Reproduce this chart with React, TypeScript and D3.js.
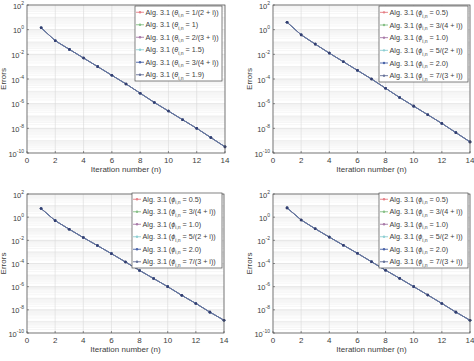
import React from "react";
import * as d3 from "d3";

// iteration numbers
const iters = [1, 2, 3, 4, 5, 6, 7, 8, 9, 10, 11, 12, 13, 14];

// log10 of the errors (all series coincide)
const errTL = [0.15, -0.9, -1.6, -2.3, -3.0, -3.7, -4.4, -5.15, -5.9, -6.6, -7.3, -8.0, -8.75, -9.5];
const errTR = [0.6, -0.42, -1.17, -1.9, -2.6, -3.3, -4.0, -4.75, -5.5, -6.2, -6.9, -7.6, -8.35, -9.1];
const errBL = [0.75, -0.3, -1.04, -1.76, -2.45, -3.15, -3.87, -4.6, -5.3, -6.0, -6.75, -7.45, -8.2, -8.9];
const errBR = [0.8, -0.24, -1.0, -1.72, -2.42, -3.12, -3.85, -4.58, -5.28, -6.0, -6.72, -7.45, -8.2, -8.9];

const labelsTheta = ["1/(2 + i)", "1", "2/(3 + i)", "1.5", "3/(4 + i)", "1.9"];
const labelsPhi = ["0.5", "3/(4 + i)", "1.0", "5/(2 + i)", "2.0", "7/(3 + i)"];

const colors = ["#e57f86", "#86bf86", "#a87aa8", "#8fcfd3", "#4a63a8", "#66729a"];

const xTicks = [0, 2, 4, 6, 8, 10, 12, 14];
const yExps = [2, 0, -2, -4, -6, -8, -10];

const FONT = "'Liberation Sans', Arial, sans-serif";
const TXT = "#404040";

type Box = { l: number; r: number; t: number; b: number };

function Panel({ box, errs, sym, labels, leg }: { box: Box; errs: number[]; sym: string; labels: string[]; leg: Box }) {
  const x = d3.scaleLinear().domain([0, 14]).range([box.l, box.r]);
  const y = d3.scaleLog().domain([1e-10, 1e2]).range([box.b, box.t]);
  const pts = iters.map((n, i) => ({ n, v: Math.pow(10, errs[i]) }));
  const line = d3.line<{ n: number; v: number }>().x((d) => x(d.n)).y((d) => y(d.v));
  const minor: number[] = [];
  for (let e = -10; e < 2; e++) for (let k = 2; k <= 9; k++) minor.push(k * Math.pow(10, e));
  const decades = d3.range(-9, 2, 2).map((e) => Math.pow(10, e));
  const rowH = (leg.b - leg.t) / labels.length;
  return (
    <g fontFamily={FONT}>
      <rect x={box.l} y={box.t} width={box.r - box.l} height={box.b - box.t} fill="#fff" />
      {minor.map((v, i) => (
        <line key={"m" + i} x1={box.l} x2={box.r} y1={y(v)} y2={y(v)} stroke="#f0f0f0" strokeWidth={0.6} />
      ))}
      {decades.map((v, i) => (
        <line key={"d" + i} x1={box.l} x2={box.r} y1={y(v)} y2={y(v)} stroke="#e4e4e4" strokeWidth={0.6} />
      ))}
      {yExps.map((e) => (
        <line key={"y" + e} x1={box.l} x2={box.r} y1={y(Math.pow(10, e))} y2={y(Math.pow(10, e))} stroke="#d8d8d8" strokeWidth={0.6} />
      ))}
      {xTicks.map((t) => (
        <line key={"x" + t} x1={x(t)} x2={x(t)} y1={box.t} y2={box.b} stroke="#d8d8d8" strokeWidth={0.6} />
      ))}
      {colors.map((c, s) => (
        <g key={"s" + s}>
          <path d={line(pts) || ""} fill="none" stroke={c} strokeWidth={0.9} />
          {pts.map((p) => (
            <circle key={p.n} cx={x(p.n)} cy={y(p.v)} r={1.3} fill={s === colors.length - 1 ? "#333d6e" : c} />
          ))}
        </g>
      ))}
      <rect x={box.l} y={box.t} width={box.r - box.l} height={box.b - box.t} fill="none" stroke="#4d4d4d" strokeWidth={0.7} />
      {xTicks.map((t) => (
        <g key={"xt" + t}>
          <line x1={x(t)} x2={x(t)} y1={box.b} y2={box.b - 2} stroke="#4d4d4d" strokeWidth={0.6} />
          <text x={x(t)} y={box.b + 9.5} fontSize={8} fill={TXT} textAnchor="middle">{t}</text>
        </g>
      ))}
      {yExps.map((e) => (
        <g key={"yt" + e}>
          <line x1={box.l} x2={box.l + 2} y1={y(Math.pow(10, e))} y2={y(Math.pow(10, e))} stroke="#4d4d4d" strokeWidth={0.6} />
          <text x={box.l - 3} y={y(Math.pow(10, e)) + 3.5} fontSize={7.5} fill={TXT} textAnchor="end">
            10<tspan fontSize={5} dy={-4}>{e}</tspan>
          </text>
        </g>
      ))}
      <text x={(box.l + box.r) / 2} y={box.b + 19} fontSize={8} fill={TXT} textAnchor="middle">Iteration number (n)</text>
      <text transform={`translate(${box.l - 21},${(box.t + box.b) / 2}) rotate(-90)`} fontSize={8} fill={TXT} textAnchor="middle">Errors</text>
      <rect x={leg.l} y={leg.t} width={leg.r - leg.l} height={leg.b - leg.t} fill="#fff" stroke="#4d4d4d" strokeWidth={0.7} />
      {labels.map((lab, i) => {
        const cy = leg.t + rowH * (i + 0.5);
        return (
          <g key={"l" + i}>
            <line x1={leg.l + 1} x2={leg.l + 9} y1={cy} y2={cy} stroke={colors[i]} strokeWidth={0.9} />
            <circle cx={leg.l + 5} cy={cy} r={1.2} fill={colors[i]} />
            <text x={leg.l + 10.5} y={cy + 2.7} fontSize={7.2} fill={TXT}>
              Alg. 3.1 (<tspan fontStyle="italic">{sym}</tspan>
              <tspan fontSize={5} dy={2.5}>i,n</tspan>
              <tspan dy={-2.5}> = {lab})</tspan>
            </text>
          </g>
        );
      })}
    </g>
  );
}

export default function App() {
  return (
    <svg width={474} height={361} style={{ position: "absolute", left: 0, top: 0, background: "#fff" }}>
      <Panel box={{ l: 27, r: 225, t: 5, b: 153 }} errs={errTL} sym="θ" labels={labelsTheta} leg={{ l: 135, r: 222, t: 6, b: 81 }} />
      <Panel box={{ l: 273, r: 470, t: 5, b: 153 }} errs={errTR} sym="ϕ" labels={labelsPhi} leg={{ l: 379, r: 468, t: 6, b: 82 }} />
      <Panel box={{ l: 27, r: 224, t: 194, b: 333 }} errs={errBL} sym="ϕ" labels={labelsPhi} leg={{ l: 132, r: 222, t: 193, b: 268 }} />
      <Panel box={{ l: 273, r: 470, t: 194, b: 333 }} errs={errBR} sym="ϕ" labels={labelsPhi} leg={{ l: 379, r: 468, t: 193, b: 268 }} />
    </svg>
  );
}
